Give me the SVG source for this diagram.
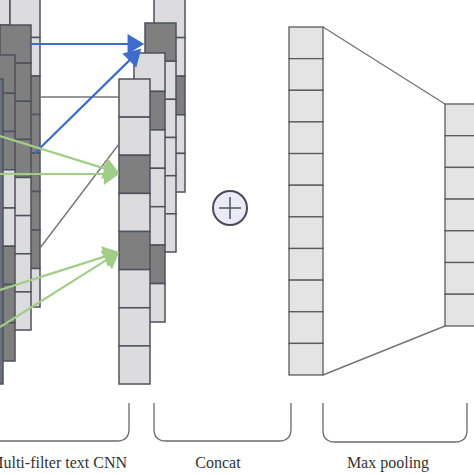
<svg xmlns="http://www.w3.org/2000/svg" width="474" height="474" viewBox="0 0 474 474">
<style>
.l{fill:#dcdcde;stroke:#4e525c;stroke-width:1.5}
.d{fill:#7f7f80;stroke:#4e525c;stroke-width:1.5}
.b{fill:#6c707c;stroke:#4e525c;stroke-width:1.5}
.p{fill:#e4e4e5;stroke:#5a5a5e;stroke-width:1.3}
.gray{stroke:#757575;stroke-width:1.4;fill:none}
.blue{stroke:#3d6ccc;stroke-width:2.2;fill:none}
.green{stroke:#a2cd88;stroke-width:2.2;fill:none}
.br{stroke:#6a6a6e;stroke-width:1.3;fill:none}
.lab{font-family:"Liberation Serif","Times New Roman",serif;font-size:16px;fill:#333}
</style>
<defs>
<marker id="ab" markerUnits="userSpaceOnUse" markerWidth="18" markerHeight="20" refX="13" refY="9" orient="auto" viewBox="0 0 16 18">
<path d="M0,0 L15,9 L0,18 Z" fill="#3d6ccc"/>
</marker>
<marker id="ag" markerUnits="userSpaceOnUse" markerWidth="18" markerHeight="22" refX="12" refY="10" orient="auto" viewBox="0 0 15 20">
<path d="M0,0 L14,10 L0,20 Z" fill="#a2cd88"/>
</marker>
</defs>
<rect width="474" height="474" fill="#fff"/>

<g id="left-stack">
<rect class="l" x="-21" y="-12" width="31" height="37"/>
<g id="L1">
<rect class="l" x="10" y="-1" width="30" height="38.5"/>
<rect class="l" x="10" y="37.5" width="30" height="38.5"/>
<rect class="d" x="10" y="76" width="30" height="38.5"/>
<rect class="d" x="10" y="114.5" width="30" height="38.5"/>
<rect class="d" x="10" y="153" width="30" height="38.5"/>
<rect class="d" x="10" y="191.5" width="30" height="38.5"/>
<rect class="d" x="10" y="230" width="30" height="38.5"/>
<rect class="l" x="10" y="268.5" width="30" height="38.5"/>
</g>
<g id="L2">
<rect class="d" x="0" y="25" width="31" height="38.1"/>
<rect class="d" x="0" y="63.1" width="31" height="38.1"/>
<rect class="d" x="0" y="101.3" width="31" height="38.1"/>
<rect class="d" x="0" y="139.4" width="31" height="38.1"/>
<rect class="l" x="0" y="177.5" width="31" height="38.1"/>
<rect class="l" x="0" y="215.6" width="31" height="38.1"/>
<rect class="l" x="0" y="253.8" width="31" height="38.1"/>
<rect class="l" x="0" y="291.9" width="31" height="38.1"/>
</g>
<g id="L3">
<rect class="d" x="-16" y="55" width="31" height="38.25"/>
<rect class="d" x="-16" y="93.25" width="31" height="38.25"/>
<rect class="d" x="-16" y="131.5" width="31" height="38.25"/>
<rect class="l" x="-16" y="169.75" width="31" height="38.25"/>
<rect class="l" x="-16" y="208" width="31" height="38.25"/>
<rect class="d" x="-16" y="246.25" width="31" height="38.25"/>
<rect class="d" x="-16" y="284.5" width="31" height="38.25"/>
<rect class="d" x="-16" y="322.75" width="31" height="38.25"/>
</g>
<g id="L4">
<rect class="b" x="-28" y="79" width="31" height="305"/>
</g>
</g>

<g id="right-stack">
<g id="C1">
<rect class="l" x="154" y="-1" width="31" height="38.6"/>
<rect class="l" x="154" y="37.6" width="31" height="38.6"/>
<rect class="d" x="154" y="76.2" width="31" height="38.6"/>
<rect class="l" x="154" y="114.8" width="31" height="38.6"/>
<rect class="l" x="154" y="153.4" width="31" height="38.6"/>
</g>
<g id="C2">
<rect class="d" x="145" y="23" width="31" height="38.2"/>
<rect class="l" x="145" y="61.2" width="31" height="38.2"/>
<rect class="l" x="145" y="99.3" width="31" height="38.2"/>
<rect class="l" x="145" y="137.5" width="31" height="38.2"/>
<rect class="l" x="145" y="175.7" width="31" height="38.2"/>
<rect class="l" x="145" y="213.8" width="31" height="38.2"/>
</g>
<g id="C3">
<rect class="l" x="134" y="53" width="31" height="38.4"/>
<rect class="d" x="134" y="91.4" width="31" height="38.4"/>
<rect class="l" x="134" y="129.9" width="31" height="38.4"/>
<rect class="l" x="134" y="168.3" width="31" height="38.4"/>
<rect class="l" x="134" y="206.7" width="31" height="38.4"/>
<rect class="d" x="134" y="245.1" width="31" height="38.4"/>
<rect class="l" x="134" y="283.6" width="31" height="38.4"/>
</g>
<g id="C4">
<rect class="l" x="119" y="79" width="31" height="38.1"/>
<rect class="l" x="119" y="117.1" width="31" height="38.1"/>
<rect class="d" x="119" y="155.3" width="31" height="38.1"/>
<rect class="l" x="119" y="193.4" width="31" height="38.1"/>
<rect class="d" x="119" y="231.5" width="31" height="38.1"/>
<rect class="l" x="119" y="269.6" width="31" height="38.1"/>
<rect class="l" x="119" y="307.8" width="31" height="38.1"/>
<rect class="l" x="119" y="345.9" width="31" height="38.1"/>
</g>
</g>

<g id="connectors">
<line class="gray" x1="40" y1="97" x2="119" y2="97"/>
<line class="gray" x1="40" y1="248" x2="119" y2="144"/>
<line class="blue" x1="31" y1="44" x2="142" y2="44" marker-end="url(#ab)"/>
<line class="blue" x1="35" y1="153" x2="139.6" y2="50.4" marker-end="url(#ab)"/>
<line class="green" x1="0" y1="136" x2="117.1" y2="172.4" marker-end="url(#ag)"/>
<line class="green" x1="0" y1="174" x2="117" y2="174" marker-end="url(#ag)"/>
<line class="green" x1="0" y1="290" x2="117.1" y2="252.6" marker-end="url(#ag)"/>
<line class="green" x1="0" y1="327" x2="117.3" y2="253.1" marker-end="url(#ag)"/>
<line class="gray" x1="323" y1="27" x2="445" y2="104"/>
<line class="gray" x1="323" y1="375" x2="445" y2="326"/>
</g>

<g id="concat-op">
<circle cx="230" cy="208" r="17" fill="#ebebf7" stroke="#4a4a55" stroke-width="2"/>
<line x1="219" y1="208" x2="241" y2="208" stroke="#555" stroke-width="1.5"/>
<line x1="230" y1="197" x2="230" y2="219" stroke="#555" stroke-width="1.5"/>
</g>

<g id="concat-vector">
<rect class="p" x="289" y="27" width="34" height="31.64"/>
<rect class="p" x="289" y="58.64" width="34" height="31.64"/>
<rect class="p" x="289" y="90.28" width="34" height="31.64"/>
<rect class="p" x="289" y="121.92" width="34" height="31.64"/>
<rect class="p" x="289" y="153.56" width="34" height="31.64"/>
<rect class="p" x="289" y="185.2" width="34" height="31.64"/>
<rect class="p" x="289" y="216.84" width="34" height="31.64"/>
<rect class="p" x="289" y="248.48" width="34" height="31.64"/>
<rect class="p" x="289" y="280.12" width="34" height="31.64"/>
<rect class="p" x="289" y="311.76" width="34" height="31.64"/>
<rect class="p" x="289" y="343.4" width="34" height="31.6"/>
</g>

<g id="pooled-vector">
<rect class="p" x="445" y="104" width="40" height="31.7"/>
<rect class="p" x="445" y="135.7" width="40" height="31.7"/>
<rect class="p" x="445" y="167.4" width="40" height="31.7"/>
<rect class="p" x="445" y="199.1" width="40" height="31.7"/>
<rect class="p" x="445" y="230.8" width="40" height="31.7"/>
<rect class="p" x="445" y="262.5" width="40" height="31.7"/>
<rect class="p" x="445" y="294.2" width="40" height="31.8"/>
</g>

<g id="brackets">
<path class="br" d="M129,403 V429 Q129,441 117,441 H-5"/>
<path class="br" d="M154,403 V429 Q154,441 166,441 H279 Q291,441 291,429 V403"/>
<path class="br" d="M323,403 V430 Q323,442 335,442 H455 Q467,442 467,430 V403"/>
</g>

<g id="labels">
<text class="lab" x="127" y="468" text-anchor="end">Multi-filter text CNN</text>
<text class="lab" x="218" y="468" text-anchor="middle">Concat</text>
<text class="lab" x="388" y="468" text-anchor="middle">Max pooling</text>
</g>
</svg>
